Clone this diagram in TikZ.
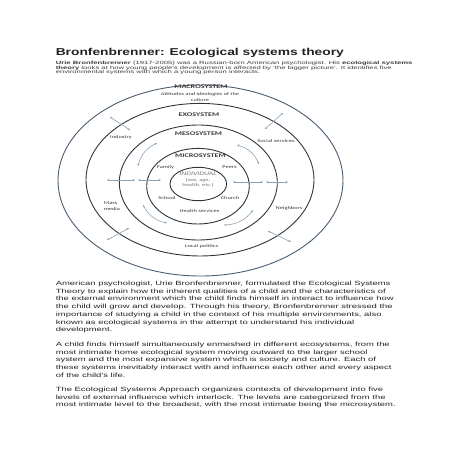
\documentclass[tikz,border=0pt]{standalone}
\usepackage{fontspec}
\setmainfont{Liberation Sans}
\newfontfamily\calibri{Carlito}
\usetikzlibrary{arrows.meta}
\definecolor{ringgray}{HTML}{2F353D}
\definecolor{ringblue}{HTML}{4A5D70}
\definecolor{linkblue}{HTML}{8AA3B6}
\definecolor{labelgray}{HTML}{3A3A3A}
\definecolor{bodygray}{HTML}{222222}
\tikzset{
  wide/.style={inner sep=0pt, xscale=1.46},
  sysname/.style={wide, text=labelgray, font=\calibri\bfseries\fontsize{5.6}{6}\selectfont},
  setting/.style={wide, text=labelgray, font=\calibri\fontsize{4.4}{5}\selectfont},
  ring/.style={draw=ringgray, line width=0.9pt},
  link/.style={draw=linkblue, line width=0.6pt, >={Stealth[length=2.4pt,width=2.2pt]}, <->},
  para/.style={inner sep=0pt, xscale=1.56, anchor=north west, align=left, text=bodygray, font=\fontsize{6.05}{7.7}\selectfont},
}
\begin{document}
\begin{tikzpicture}[x=1pt,y=-1pt]
\useasboundingbox (0,0) rectangle (453,453);
% heading
\node[inner sep=0pt, xscale=1.38, anchor=base west, text=bodygray, font=\bfseries\fontsize{10}{12}\selectfont] (title) at (55.5,55.3) {Bronfenbrenner: Ecological systems theory};
\node[para, xscale=1.07, text=labelgray, font=\fontsize{4.6}{4.6}\selectfont] (intro) at (55.5,61) {\textbf{Urie Bronfenbrenner} (1917-2005) was a Russian-born American psychologist. His \textbf{ecological systems}\\
  \textbf{theory} looks at how young people's development is affected by `the bigger picture'. It identifies five\\
  environmental systems with which a young person interacts.};
% rings
\draw[ring, draw=ringblue] (200.5,180.5) ellipse [x radius=142.5pt, y radius=95.5pt];
\draw[ring] (200,179.7) ellipse [x radius=114pt, y radius=76.3pt];
\draw[ring] (198.3,182.5) ellipse [x radius=79pt, y radius=57.5pt];
\draw[ring] (198,186.2) ellipse [x radius=51.3pt, y radius=37.8pt];
\draw[ring] (198.3,184) ellipse [x radius=28.3pt, y radius=16.7pt];
% labels
\node[sysname] (macro) at (201,86.5) {MACROSYSTEM};
\node[setting, align=center, font=\calibri\fontsize{4.3}{5.2}\selectfont] (culture) at (200,97) {Attitudes and ideologies of the\\culture};
\node[sysname] (exo) at (199,114.3) {EXOSYSTEM};
\node[sysname] (meso) at (198.5,133.3) {MESOSYSTEM};
\node[sysname] (micro) at (200.5,155.7) {MICROSYSTEM};
\node[setting] (family) at (165.5,167.3) {Family};
\node[setting] (peers) at (229.5,167) {Peers};
\node[setting, align=center, text=black!55, font=\calibri\fontsize{4.4}{5.5}\selectfont] (self) at (198,180) {{\fontsize{5.3}{5.5}\selectfont\itshape INDIVIDUAL}\\(sex, age,\\health, etc.)};
\node[setting] (school) at (167,198.3) {School};
\node[setting] (church) at (230,198) {Church};
\node[setting] (health) at (199.5,211) {Health services};
\node[setting] (industry) at (121,137.7) {Industry};
\node[setting] (social) at (276,140.7) {Social services};
\node[setting, anchor=west, align=left, font=\calibri\fontsize{4.4}{6}\selectfont] (media) at (103.5,206.3) {Mass\\media};
\node[setting] (neighbors) at (289,208.3) {Neighbors};
\node[setting] (politics) at (201.5,246.7) {Local politics};
% arrow ends
\path
  (110,117) coordinate (nw1) (130,130) coordinate (nw2)
  (283,113) coordinate (ne1) (265,129) coordinate (ne2)
  (157,143) coordinate (cnw1) (138,166) coordinate (cnw2)
  (237,145) coordinate (cne1) (259,164) coordinate (cne2)
  (107,180) coordinate (w1) (135,180) coordinate (w2)
  (138,180) coordinate (w3) (161,180) coordinate (w4)
  (233,182) coordinate (e1) (263,182) coordinate (e2)
  (266,182) coordinate (e3) (288,182) coordinate (e4)
  (143,205) coordinate (csw1) (167,223) coordinate (csw2)
  (253,210) coordinate (cse1) (224,225) coordinate (cse2)
  (129,228) coordinate (sw1) (107,240) coordinate (sw2)
  (268,231) coordinate (se1) (291,242) coordinate (se2);
\begin{scope}[link]
  \draw (nw1) to (nw2);
  \draw (ne1) to (ne2);
  \draw (cnw1) to[bend right=25] (cnw2);
  \draw (cne1) to[bend left=25] (cne2);
  \draw (w1) to (w2);
  \draw (w3) to (w4);
  \draw (e1) to (e2);
  \draw (e3) to (e4);
  \draw (csw1) to[bend right=25] (csw2);
  \draw (cse1) to[bend left=25] (cse2);
  \draw (sw1) to (sw2);
  \draw (se1) to (se2);
\end{scope}
% text below
\node[para] (para1) at (55.5,281) {American psychologist, Urie Bronfenbrenner, formulated the Ecological Systems\\
  Theory to explain how the inherent qualities of a child and the characteristics of\\
  the external environment which the child finds himself in interact to influence how\\
  the child will grow and develop. Through his theory, Bronfenbrenner stressed the\\
  importance of studying a child in the context of his multiple environments, also\\
  known as ecological systems in the attempt to understand his individual\\
  development.};
\node[para] (para2) at (55.5,342) {A child finds himself simultaneously enmeshed in different ecosystems, from the\\
  most intimate home ecological system moving outward to the larger school\\
  system and the most expansive system which is society and culture. Each of\\
  these systems inevitably interact with and influence each other and every aspect\\
  of the child's life.};
\node[para] (para3) at (55.5,387) {The Ecological Systems Approach organizes contexts of development into five\\
  levels of external influence which interlock. The levels are categorized from the\\
  most intimate level to the broadest, with the most intimate being the microsystem.};
\end{tikzpicture}
\end{document}
